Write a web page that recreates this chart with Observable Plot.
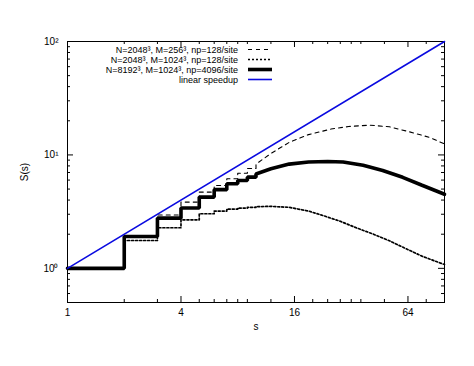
<!DOCTYPE html>
<html><head><meta charset="utf-8">
<script src="https://cdn.jsdelivr.net/npm/d3@7"></script>
<script src="https://cdn.jsdelivr.net/npm/@observablehq/plot@0.6"></script>
<style>body{margin:0;background:#fff}</style>
</head><body><div id="chart"></div>
<script>
// ---- data ----
const seriesNames = [
  "N=2048\u00B3, M=256\u00B3, np=128/site",
  "N=2048\u00B3, M=1024\u00B3, np=128/site",
  "N=8192\u00B3, M=1024\u00B3, np=4096/site",
  "linear speedup"
];
// stepped part (integer s)
const stepS       = [1, 2, 3, 4, 5, 6, 7, 8, 9, 10];
const stepDashed  = [1, 1.95, 2.95, 3.84, 4.7, 5.38, 6.16, 6.9, 7.6, 8.3];
const stepDotted  = [1, 1.76, 2.28, 2.68, 3.03, 3.2, 3.33, 3.4, 3.45, 3.5];
const stepThick   = [1, 1.91, 2.77, 3.4, 4.25, 4.94, 5.57, 5.95, 6.37, 6.8];
// smooth part
const smoothDashedS = [12, 15, 19, 25, 31, 40, 51, 65, 83, 100];
const smoothDashed  = [10.3, 12.9, 15.1, 16.9, 17.8, 18.3, 17.7, 16.0, 14.3, 12.5];
const smoothDottedS = [12, 15, 19, 23, 28, 34, 42, 51, 62, 76, 100];
const smoothDotted  = [3.52, 3.45, 3.2, 2.9, 2.6, 2.28, 2.0, 1.75, 1.5, 1.28, 1.08];
const smoothThickS  = [12, 15, 19, 24, 29, 37, 47, 60, 76, 100];
const smoothThick   = [7.55, 8.3, 8.65, 8.75, 8.65, 8.1, 7.3, 6.35, 5.4, 4.5];
const linearS = [1, 100];

const majorX = [1, 4, 16, 64];
const minorX = [2, 3, 5, 6, 7, 8, 9, 12, 20, 24, 28, 32, 36, 48, 80];
const majorY = [1, 10, 100];
const minorY = [0.5,0.6,0.7,0.8,0.9,2,3,4,5,6,7,8,9,20,30,40,50,60,70,80,90];
const yTickLabels = ["10\u2070", "10\u00B9", "10\u00B2"];
const xTickLabels = ["1", "4", "16", "64"];

// ---- build rows ----
function build(stepVals, smS, smV) {
  const rows = [];
  stepS.forEach((s, i) => {
    if (i > 0) rows.push({s, S: stepVals[i - 1]});
    rows.push({s, S: stepVals[i]});
  });
  smS.forEach((s, i) => rows.push({s, S: smV[i]}));
  return rows;
}
const dashedRows = build(stepDashed, smoothDashedS, smoothDashed);
const dottedRows = build(stepDotted, smoothDottedS, smoothDotted);
const thickRows  = build(stepThick, smoothThickS, smoothThick);
const linearRows = linearS.map(s => ({s, S: s}));

const W = 474, H = 366, mL = 67, mR = 30, mT = 41, mB = 64;
const FW = W - mL - mR, FH = H - mT - mB;
const BLUE = "#0a0ae0";

const styles = [
  {stroke: "black", strokeWidth: 1.1, strokeDasharray: "4,4"},
  {stroke: "black", strokeWidth: 1.7, strokeDasharray: "2,2"},
  {stroke: "black", strokeWidth: 3.6},
  {stroke: BLUE, strokeWidth: 1.6}
];

const chart = Plot.plot({
  width: W, height: H,
  marginLeft: mL, marginRight: mR, marginTop: mT, marginBottom: mB,
  style: {fontFamily: "'Liberation Sans', Arial, sans-serif", fontSize: "10px", color: "black", background: "white"},
  x: {type: "log", base: 2, domain: [1, 100]},
  y: {type: "log", domain: [0.5, 100]},
  marks: [
    Plot.frame({stroke: "black", strokeWidth: 1}),
    // inward ticks, all four sides
    Plot.tickX(majorX, {x: d => d, insetTop: FH - 6, stroke: "black"}),
    Plot.tickX(majorX, {x: d => d, insetBottom: FH - 6, stroke: "black"}),
    Plot.tickX(minorX, {x: d => d, insetTop: FH - 3, stroke: "black"}),
    Plot.tickX(minorX, {x: d => d, insetBottom: FH - 3, stroke: "black"}),
    Plot.tickY(majorY, {y: d => d, insetRight: FW - 6, stroke: "black"}),
    Plot.tickY(majorY, {y: d => d, insetLeft: FW - 6, stroke: "black"}),
    Plot.tickY(minorY, {y: d => d, insetRight: FW - 3, stroke: "black"}),
    Plot.tickY(minorY, {y: d => d, insetLeft: FW - 3, stroke: "black"}),
    Plot.axisX(majorX, {tickSize: 0, tickPadding: 6, tickFormat: d => xTickLabels[majorX.indexOf(d)],
      label: "s", labelAnchor: "center", labelArrow: "none", labelOffset: 27}),
    Plot.axisY(majorY, {tickSize: 0, tickPadding: 9, tickFormat: d => yTickLabels[majorY.indexOf(d)],
      label: "S(s)", labelAnchor: "center", labelArrow: "none", labelOffset: 47}),
    Plot.line(dashedRows, {x: "s", y: "S", ...styles[0]}),
    Plot.line(dottedRows, {x: "s", y: "S", ...styles[1]}),
    Plot.line(thickRows,  {x: "s", y: "S", ...styles[2], strokeLinejoin: "miter"}),
    Plot.line(linearRows, {x: "s", y: "S", ...styles[3]})
  ]
});
document.getElementById("chart").appendChild(chart);

// legend (inside the plot, top-left)
const svg = d3.select(chart);
const lg = svg.append("g").attr("font-family", "'Liberation Sans', Arial, sans-serif").attr("font-size", 9);
const rowY = [49.5, 59.5, 69.5, 79.5];
seriesNames.forEach((name, i) => {
  lg.append("text").attr("x", 238).attr("y", rowY[i]).attr("text-anchor", "end")
    .attr("dy", "0.35em").attr("fill", "black").text(name);
  const st = styles[i];
  lg.append("line").attr("x1", 248).attr("x2", 272).attr("y1", rowY[i]).attr("y2", rowY[i])
    .attr("stroke", st.stroke).attr("stroke-width", st.strokeWidth)
    .attr("stroke-dasharray", st.strokeDasharray || null);
});
</script>
</body></html>
